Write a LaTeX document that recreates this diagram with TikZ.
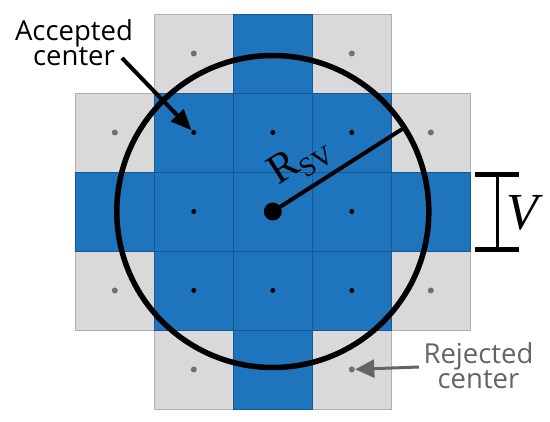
\documentclass[tikz,border=0pt]{standalone}
\usepackage{fontspec}
\setmainfont{Open Sans}
\newfontfamily\serifface{Liberation Serif}
\usetikzlibrary{arrows.meta}
\definecolor{cblue}{RGB}{30,116,189}
\definecolor{cblueedge}{RGB}{24,88,145}
\definecolor{cgray}{RGB}{217,217,217}
\definecolor{cgrayedge}{RGB}{176,176,176}
\definecolor{cdotgray}{RGB}{112,112,112}
\definecolor{ctextgray}{RGB}{100,100,100}
\tikzset{
  cellbase/.style={rectangle, minimum size=79pt, inner sep=0pt, line width=0.8pt},
  bluecell/.style={cellbase, fill=cblue, draw=cblueedge},
  graycell/.style={cellbase, fill=cgray, draw=cgrayedge},
  blackdot/.style={circle, fill=black, inner sep=0pt, minimum size=5pt},
  graydot/.style={circle, fill=cdotgray, inner sep=0pt, minimum size=6pt},
  bigdot/.style={circle, fill=black, inner sep=0pt, minimum size=18pt},
  labeltext/.style={align=center, inner sep=0pt, font={\fontsize{27.5pt}{25pt}\selectfont}},
  accarrow/.style={-{Triangle[length=21pt,width=17pt]}, line width=4pt},
  rejarrow/.style={-{Triangle[length=19pt,width=18pt]}, line width=3pt, draw=ctextgray, color=ctextgray},
}
\begin{document}
\begin{tikzpicture}[x=1pt,y=-1pt]
\useasboundingbox (0,0) rectangle (550,422);
% gray cells
\foreach \c/\r in {1/0,3/0,0/1,4/1,0/3,4/3,1/4,3/4}{
  \node[graycell] (c-\c-\r) at ({75.3+79*\c+39.5},{14+79*\r+39.5}) {};
  \node[graydot] (d-\c-\r) at (c-\c-\r.center) {};
}
% blue cells
\foreach \c/\r in {2/0,2/4,0/2,4/2}{
  \node[bluecell] (c-\c-\r) at ({75.3+79*\c+39.5},{14+79*\r+39.5}) {};
}
\foreach \c in {1,2,3}{
  \foreach \r in {1,2,3}{
    \node[bluecell] (c-\c-\r) at ({75.3+79*\c+39.5},{14+79*\r+39.5}) {};
  }
}
\foreach \c/\r in {1/1,2/1,3/1,1/2,3/2,1/3,2/3,3/3}{
  \node[blackdot] (d-\c-\r) at (c-\c-\r.center) {};
}
\node[bigdot] (ctr) at (c-2-2.center) {};
% circle and radius
\draw[line width=5.5pt] (ctr.center) circle[radius=156pt];
\coordinate (redge) at ([shift={(32.5:156pt)}]ctr.center);
\draw[line width=4pt] (ctr.center) -- (redge);
\node[rotate=32.5, inner sep=0pt] (rsv) at (300,161) {\serifface\fontsize{42pt}{42pt}\selectfont R$_{\hbox{\serifface\fontsize{27pt}{27pt}\selectfont SV}}$};
% V dimension
\coordinate (vt) at (497,175);
\coordinate (vb) at (497,249.5);
\draw[line width=3pt] (vt) -- (vb);
\draw[line width=5pt] ([xshift=-22pt]vt) -- ([xshift=22pt]vt);
\draw[line width=5pt] ([xshift=-22pt]vb) -- ([xshift=22pt]vb);
\node[inner sep=0pt, anchor=base] (vlab) at (522,230) {\serifface\itshape\fontsize{52pt}{52pt}\selectfont V};
% labels
\node[labeltext] (acc) at (74,43) {Accepted\\center};
\coordinate (accstart) at (122,58);
\draw[accarrow, shorten >=3pt] (accstart) -- (d-1-1.center);
\node[labeltext, text=ctextgray] (rej) at (478.5,365.5) {Rejected\\center};
\coordinate (rejstart) at (419,367);
\draw[rejarrow, shorten >=3.5pt] (rejstart) -- (d-3-4.center);
\end{tikzpicture}
\end{document}
